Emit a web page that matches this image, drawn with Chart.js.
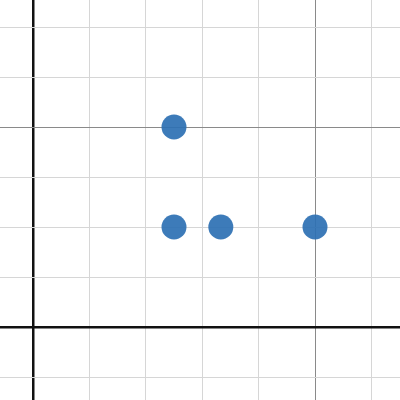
<!DOCTYPE html>
<html><head><meta charset="utf-8">
<script src="https://cdn.jsdelivr.net/npm/chart.js@4"></script>
<style>html,body{margin:0;padding:0;background:#fff}</style>
</head><body>
<canvas id="c" width="400" height="400" style="width:400px;height:400px"></canvas>
<script>
const xValues = [2.5, 2.5, 3.33, 5];
const yValues = [2, 1, 1, 1];
const xRange = [-0.585, 6.507];
const yRange = [-0.73, 3.27];
const xTicks = [0, 1, 2, 3, 4, 5, 6];
const xMajor = [5];
const yTicks = [-0.5, 0, 0.5, 1, 1.5, 2, 2.5, 3];
const yMajor = [2];

function gridColor(major){
  return (c) => {
    const v = c.tick ? c.tick.value : 1;
    if (Math.abs(v) < 1e-9) return '#111';
    if (major.includes(v)) return '#8a8a8a';
    return '#d6d6d6';
  };
}
function gridWidth(c){
  const v = c.tick ? c.tick.value : 1;
  return Math.abs(v) < 1e-9 ? 2.5 : 1;
}

new Chart(document.getElementById('c'), {
  type: 'scatter',
  data: { datasets: [{
    data: xValues.map((x, i) => ({x, y: yValues[i]})),
    backgroundColor: 'rgba(45,112,179,0.92)',
    borderWidth: 0,
    pointRadius: 12.5,
    pointHoverRadius: 12.5,
    clip: false
  }]},
  options: {
    responsive: false, animation: false, devicePixelRatio: 1,
    layout: { padding: 0, autoPadding: false },
    plugins: { legend: { display: false }, tooltip: { enabled: false } },
    scales: {
      x: { type: 'linear', min: xRange[0], max: xRange[1],
        afterBuildTicks: (s) => { s.ticks = xTicks.map(v => ({value: v})); },
        ticks: { display: false },
        border: { display: false },
        grid: { drawTicks: false, color: gridColor(xMajor), lineWidth: gridWidth } },
      y: { type: 'linear', min: yRange[0], max: yRange[1],
        afterBuildTicks: (s) => { s.ticks = yTicks.map(v => ({value: v})); },
        ticks: { display: false },
        border: { display: false },
        grid: { drawTicks: false, color: gridColor(yMajor), lineWidth: gridWidth } }
    }
  }
});
</script>
</body></html>
